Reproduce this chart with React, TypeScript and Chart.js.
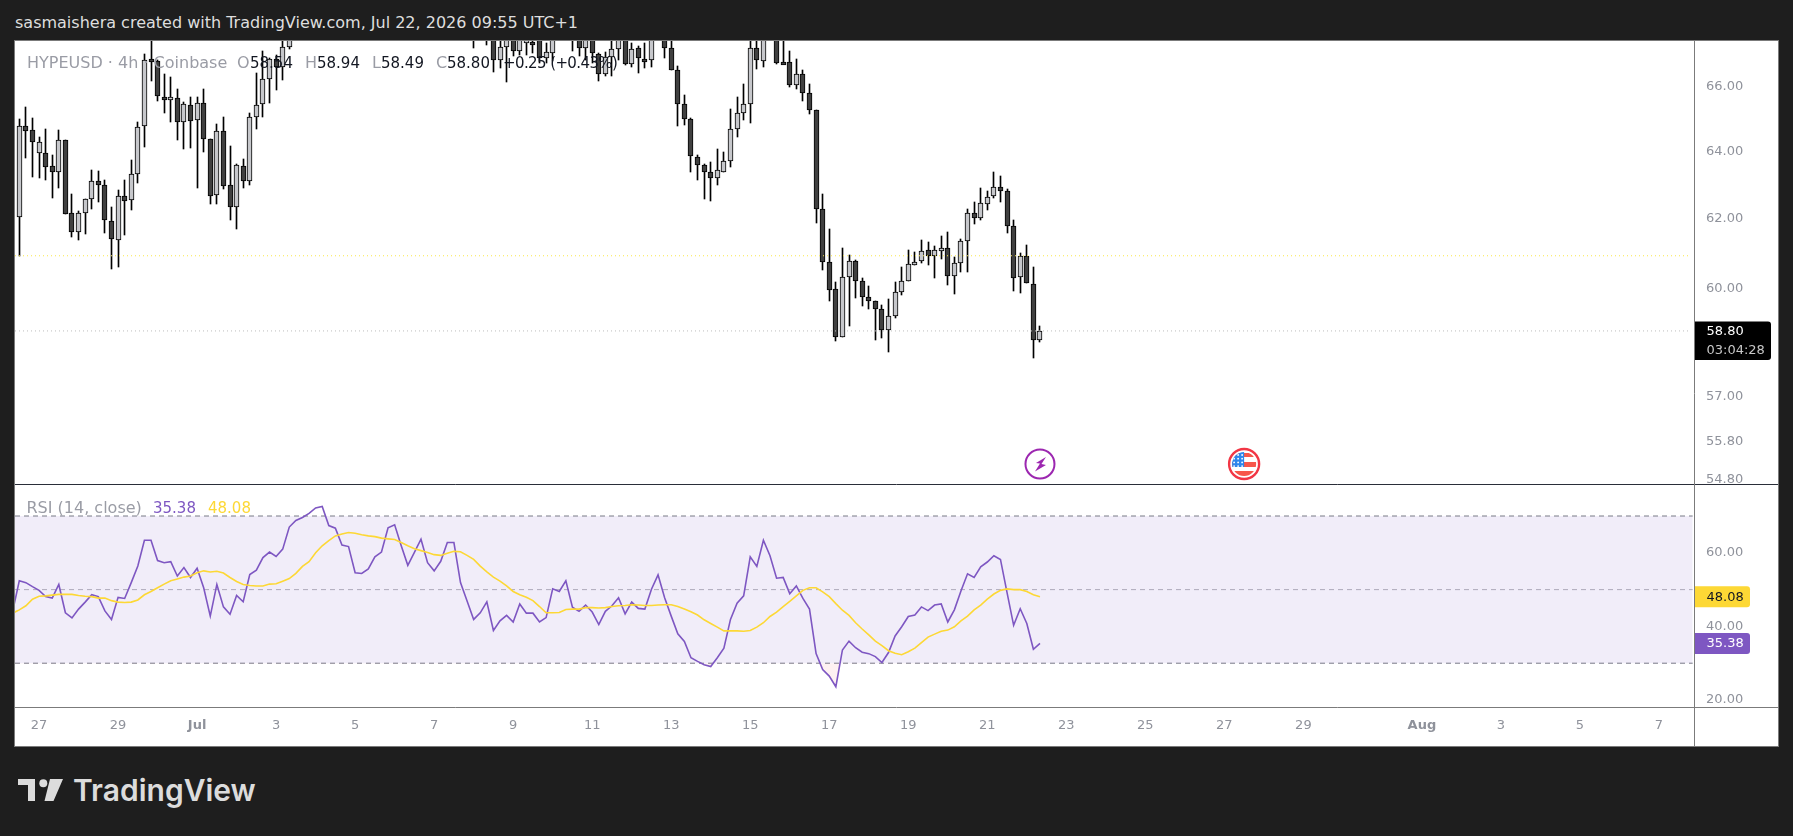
import React, { useEffect, useRef } from "react";
import { Chart, registerables } from "chart.js";

Chart.register(...registerables);

const titleText = "sasmaishera created with TradingView.com, Jul 22, 2026 09:55 UTC+1";

// Bars are 4h candles, index 0 = first bar in view. Bars above the visible range are estimates.
const opens = [
  62.05,64.79,64.67,63.96,63.96,63.57,63.39,64.36,62.17,61.61,
  62.17,62.59,63.12,63.00,61.93,61.38,62.68,62.56,63.33,64.79,
  66.87,66.81,65.68,65.59,65.65,64.91,65.44,64.97,65.50,64.39,
  62.71,64.64,63.00,62.35,63.57,63.12,65.07,65.47,66.24,66.87,
  66.62,67.25,67.8,68.4,68.9,69.3,69.6,69.9,69.4,69.2,
  68.7,68.6,68.0,67.9,68.1,68.5,68.7,69.4,69.6,69.0,
  68.5,68.8,69.2,68.6,68.3,68.7,69.2,69.2,68.4,68.0,
  67.8,68.0,67.8,66.85,67.25,67.6,67.13,67.38,67.41,67.6,
  66.91,67.06,67.8,68.1,68.0,67.7,67.22,67.55,67.03,66.40,
  66.93,67.19,67.5,66.71,67.22,66.88,66.84,67.7,67.8,67.22,
  66.53,65.47,65.0,63.84,63.60,63.39,63.21,63.39,63.74,64.70,
  65.19,65.47,67.22,66.81,67.7,67.7,66.79,66.78,66.05,66.40,
  65.81,65.28,62.29,60.74,59.99,58.63,60.31,60.77,60.22,59.74,
  59.63,59.41,58.82,59.21,59.88,60.22,60.69,60.77,61.09,60.92,
  61.09,61.15,60.34,60.72,61.35,62.17,62.02,62.44,62.68,62.95,
  62.83,61.79,60.31,60.92,60.13,58.54,
];
const highs = [
  65.02,65.38,65.05,64.46,64.71,63.91,64.68,64.36,62.75,62.24,
  62.59,63.46,63.43,63.15,62.35,62.86,63.15,63.76,64.91,67.03,
  67.7,66.84,66.41,66.30,65.94,65.53,65.68,65.68,65.94,64.39,
  64.85,65.08,64.18,63.63,63.79,65.20,66.44,67.12,66.90,67.00,
  67.6,68.1,68.9,69.3,69.7,70.0,70.3,70.3,69.8,69.6,
  69.0,68.8,68.4,68.3,68.7,68.9,69.6,69.8,69.8,69.2,
  69.0,69.3,69.4,68.8,68.9,69.3,69.5,69.4,68.6,68.4,
  68.1,68.3,68.0,67.6,67.9,67.8,67.8,68.0,67.7,67.8,
  67.38,68.0,68.3,68.4,68.2,67.9,67.8,67.9,67.06,67.09,
  67.6,67.8,67.8,67.38,67.29,67.4,67.8,68.2,68.0,67.6,
  66.66,65.75,65.03,63.91,63.63,63.69,64.08,63.99,65.31,65.68,
  66.08,67.6,67.6,67.8,68.2,68.0,67.55,67.12,66.87,66.53,
  66.08,65.28,62.75,61.70,60.19,61.15,60.95,60.80,60.28,60.07,
  59.63,59.52,59.69,60.19,60.60,61.09,61.03,61.38,61.32,61.21,
  61.50,61.61,60.89,61.41,62.29,62.49,62.91,62.82,63.39,63.27,
  62.89,61.96,61.00,61.24,60.60,58.94,
];
const lows = [
  60.93,63.83,63.23,63.20,63.16,62.61,62.91,62.14,61.48,61.40,
  61.57,62.30,62.49,61.60,60.56,60.62,61.54,62.25,63.08,64.16,
  66.17,65.55,65.18,64.90,64.35,64.10,64.13,62.91,64.01,62.43,
  62.43,62.88,61.98,61.72,62.91,63.02,64.69,65.06,65.49,65.89,
  66.23,67.2,67.6,68.1,68.6,69.0,69.2,69.3,69.0,68.6,
  68.4,67.8,67.7,67.7,67.9,68.2,68.5,69.1,68.9,68.4,
  68.3,68.6,68.4,68.1,68.2,68.5,68.9,68.2,67.8,67.22,
  67.6,67.32,66.48,66.59,66.15,66.96,67.0,67.0,67.08,66.75,
  66.75,66.80,67.6,67.7,67.13,66.96,66.85,66.75,66.17,66.33,
  66.33,66.85,66.69,66.62,66.45,66.59,66.64,67.6,66.92,66.53,
  64.79,64.81,63.38,63.14,62.58,62.52,63.0,63.39,63.55,64.44,
  64.96,64.87,66.57,66.64,67.6,66.71,66.71,65.99,65.92,65.55,
  65.15,61.87,60.53,59.65,58.51,58.63,58.93,59.73,59.51,59.40,
  58.56,58.59,58.23,59.15,59.82,60.22,60.65,60.73,60.67,60.30,
  60.85,60.10,59.84,60.45,60.47,61.85,61.96,62.27,62.62,62.49,
  61.58,59.93,59.87,60.16,58.04,58.49,
];
const closes = [
  64.79,64.64,64.30,64.30,63.54,63.39,64.36,62.14,61.61,62.17,
  62.59,63.12,63.00,61.96,61.41,62.68,62.53,63.33,64.76,66.84,
  66.81,65.71,65.59,65.68,64.91,65.47,64.94,65.50,64.39,62.68,
  64.64,62.98,62.35,63.60,63.12,65.07,65.44,66.24,66.87,66.62,
  67.25,67.8,68.4,68.9,69.3,69.6,69.9,69.4,69.2,68.7,
  68.6,68.0,67.9,68.1,68.5,68.7,69.4,69.6,69.0,68.5,
  68.8,69.2,68.6,68.3,68.7,69.2,69.2,68.4,68.0,67.8,
  68.0,67.8,66.85,67.25,67.6,67.13,67.55,67.7,67.38,66.91,
  67.09,67.7,68.1,68.0,67.7,67.22,67.55,67.06,66.40,66.93,
  67.19,67.5,66.71,67.19,66.90,66.85,67.55,68.0,67.22,66.53,
  65.47,65.0,63.87,63.60,63.39,63.21,63.45,63.74,64.70,65.19,
  65.47,67.22,66.84,67.55,68.0,66.75,66.75,66.05,66.40,65.81,
  65.28,62.29,60.74,59.96,58.63,60.31,60.77,60.22,59.74,59.63,
  59.41,58.82,59.21,59.88,60.22,60.69,60.74,61.06,60.92,61.09,
  61.15,60.34,60.72,61.35,62.17,62.02,62.47,62.65,62.95,62.83,
  61.79,60.28,60.92,60.16,58.54,58.80,
];

// RSI series start one bar before the first candle (index -1).
const rsiValues = [
  44.2,
  52.4,51.9,50.8,49.8,48.1,47.7,51.4,43.7,42.3,44.7,
  46.6,48.6,48.1,44.2,41.9,47.9,47.6,51.9,56.4,63.4,
  63.4,57.9,57.3,57.6,53.7,56.0,53.3,55.8,50.5,42.8,
  51.4,45.3,43.3,48.4,46.7,54.1,55.3,58.7,60.2,59.0,
  61.0,67.0,68.8,69.6,70.7,72.2,72.6,67.4,66.7,62.1,
  61.7,54.6,54.4,55.6,58.9,60.2,66.8,67.6,61.9,56.6,
  60.1,63.7,57.3,55.1,57.7,62.8,62.8,51.9,46.9,41.9,
  43.7,46.7,38.9,41.5,43.0,41.2,46.1,43.6,43.6,41.2,
  42.4,50.2,49.5,52.4,45.2,44.1,45.8,43.9,40.5,44.1,
  45.6,47.8,43.4,46.6,44.9,44.7,50.1,54.0,47.8,42.8,
  38.0,35.9,31.5,30.5,29.6,29.1,31.5,34.1,41.9,46.3,
  48.3,58.9,56.3,63.4,59.2,53.1,53.3,48.9,51.0,47.6,
  44.7,32.6,28.3,26.5,23.6,33.6,36.0,34.2,33.0,32.6,
  31.8,30.2,32.9,37.4,39.9,42.7,43.1,45.3,44.3,45.8,
  46.1,41.2,44.5,49.6,54.3,53.3,56.2,57.5,59.2,58.2,
  49.2,40.3,44.8,40.8,33.8,35.38,
];
const rsiSmaValues = [
  43.6,
  44.5,45.6,47.4,48.2,48.3,48.5,48.7,48.7,48.7,48.4,
  48.2,48.1,47.7,47.7,47.0,46.6,46.5,46.6,47.2,48.6,
  49.5,50.5,51.5,52.4,52.9,53.4,53.7,54.6,55.1,54.8,
  55.0,54.5,53.3,52.2,51.4,51.1,51.0,51.0,51.5,51.6,
  52.3,53.0,54.4,56.3,57.6,60.0,61.9,63.3,64.6,65.1,
  65.5,65.3,64.9,64.6,64.4,64.0,63.8,63.6,62.8,61.9,
  61.1,60.6,60.1,59.5,59.3,59.9,60.4,60.3,59.3,58.2,
  56.4,54.8,53.4,52.3,51.0,49.5,48.6,47.9,47.0,45.4,
  43.7,43.7,43.8,44.6,44.7,44.7,45.1,45.1,45.0,45.1,
  45.4,45.6,45.7,45.9,45.8,45.7,45.7,45.8,45.9,45.9,
  45.4,44.7,44.0,43.1,41.8,40.8,39.8,38.8,38.8,38.8,
  38.7,38.9,39.8,41.0,42.7,43.9,45.4,46.8,48.3,49.8,
  50.5,50.5,49.4,48.1,46.2,44.4,43.0,41.0,39.3,37.7,
  36.0,34.8,33.4,32.7,32.3,33.1,34.1,35.6,37.1,37.9,
  38.7,39.0,39.9,41.5,42.8,44.5,45.8,47.4,48.8,49.8,
  50.2,50.0,50.0,49.5,48.6,48.08,
];

const priceTicks = [66, 64, 62, 60, 57, 55.8, 54.8];
const rsiTicks = [60, 40, 20];
const rsiBands = [70, 50, 30];
const xTickBars = [3, 15, 27, 39, 51, 63, 75, 87, 99, 111, 123, 135, 147, 159, 171, 183, 195, 213, 225, 237, 249];
const xTickLabels = ["27", "29", "Jul", "3", "5", "7", "9", "11", "13", "15", "17", "19", "21", "23", "25", "27", "29", "Aug", "3", "5", "7"];
const monthLabels = ["Jul", "Aug"];

const lastPrice = 58.80;
const countdown = "03:04:28";
const yellowLevel = 60.93;
const rsiLast = 35.38;
const smaLast = 48.08;
const eventBars = [155, 186];

const xMin = -0.653;
const xMax = 254.32;
const AXIS_FONT = "'DejaVu Sans', sans-serif";

function rr(ctx: any, x: number, y: number, w: number, h: number, r: number) {
  ctx.beginPath();
  ctx.moveTo(x, y);
  ctx.lineTo(x + w - r, y);
  ctx.arcTo(x + w, y, x + w, y + r, r);
  ctx.lineTo(x + w, y + h - r);
  ctx.arcTo(x + w, y + h, x + w - r, y + h, r);
  ctx.lineTo(x, y + h);
  ctx.closePath();
}

// Snap the candles that the scales placed onto whole pixels, as the source renderer does.
const pixelSnap = {
  id: "pixelSnap",
  afterDatasetsUpdate(chart: any) {
    chart.getSortedVisibleDatasetMetas().forEach((meta: any) => {
      if (meta.type !== "bar") return;
      const isBody = meta.controller.getDataset().barThickness > 2;
      meta.data.forEach((el: any) => {
        el.x = Math.floor(el.x) + 0.5;
        const top = Math.round(Math.min(el.y, el.base));
        let bottom = Math.round(Math.max(el.y, el.base));
        if (isBody && bottom - top < 3) bottom = top + 3;
        el.y = top;
        el.base = bottom;
      });
    });
  },
};

const overlay = {
  id: "overlay",
  afterDraw(chart: any) {
    const { ctx, chartArea, scales, width, height } = chart;
    const right = chartArea.right;
    ctx.save();
    // pane frame lines
    ctx.lineWidth = 1;
    ctx.strokeStyle = "#2a2e39";
    const sep = Math.round(scales.y.bottom) + 0.5;
    ctx.beginPath(); ctx.moveTo(0, sep); ctx.lineTo(width, sep); ctx.stroke();
    ctx.strokeStyle = "#7b7b7b";
    const bot = Math.round(scales.y2.bottom) + 0.5;
    ctx.beginPath(); ctx.moveTo(0, bot); ctx.lineTo(width, bot); ctx.stroke();
    const vx = Math.round(right) + 0.5;
    ctx.beginPath(); ctx.moveTo(vx, 0); ctx.lineTo(vx, height); ctx.stroke();

    ctx.textBaseline = "middle";
    ctx.textAlign = "left";
    ctx.font = "13px " + AXIS_FONT;
    const textX = right + 12.5;

    // last price badge
    const py = scales.y.getPixelForValue(lastPrice);
    ctx.fillStyle = "#000000";
    rr(ctx, right + 1, py - 9.5, 76, 38.5, 3);
    ctx.fill();
    ctx.fillStyle = "#ffffff";
    ctx.fillText(lastPrice.toFixed(2), textX, py + 1);
    ctx.fillStyle = "#c8c8c8";
    ctx.fillText(countdown, textX, py + 19.5);

    // RSI badges
    const badge = (v: number, bg: string, fg: string) => {
      const y = scales.y2.getPixelForValue(v);
      ctx.fillStyle = bg;
      rr(ctx, right + 1, y - 10.5, 55, 21, 3);
      ctx.fill();
      ctx.fillStyle = fg;
      ctx.fillText(v.toFixed(2), textX, y + 0.5);
    };
    badge(smaLast, "#fdd835", "#131722");
    badge(rsiLast, "#7e57c2", "#ffffff");

    // event markers
    const iy = scales.y.bottom - 20;
    const bx = scales.x.getPixelForValue(eventBars[0]);
    ctx.fillStyle = "#ffffff";
    ctx.strokeStyle = "#9c27b0";
    ctx.lineWidth = 2;
    ctx.beginPath(); ctx.arc(bx, iy, 14.5, 0, Math.PI * 2); ctx.fill(); ctx.stroke();
    ctx.fillStyle = "#9c27b0";
    ctx.beginPath();
    ctx.moveTo(bx + 6, iy - 7);
    ctx.lineTo(bx - 4, iy - 1);
    ctx.lineTo(bx, iy - 0.5);
    ctx.lineTo(bx - 5, iy + 7.5);
    ctx.lineTo(bx + 6, iy + 1);
    ctx.lineTo(bx + 1.5, iy);
    ctx.closePath();
    ctx.fill();

    const fx = scales.x.getPixelForValue(eventBars[1]);
    ctx.fillStyle = "#ffffff";
    ctx.strokeStyle = "#f23645";
    ctx.lineWidth = 2.4;
    ctx.beginPath(); ctx.arc(fx, iy, 15, 0, Math.PI * 2); ctx.fill(); ctx.stroke();
    ctx.save();
    ctx.beginPath(); ctx.arc(fx, iy, 12, 0, Math.PI * 2); ctx.clip();
    ctx.fillStyle = "#f7564a";
    ctx.fillRect(fx - 13, iy - 11, 26, 4);
    ctx.fillRect(fx - 13, iy - 2, 26, 5);
    ctx.fillRect(fx - 13, iy + 7, 26, 6);
    ctx.fillStyle = "#2f86eb";
    ctx.fillRect(fx - 13, iy - 12, 13, 15);
    ctx.fillStyle = "#ffffff";
    for (let r = 0; r < 4; r++) {
      for (let c = 0; c < 3; c++) {
        ctx.beginPath();
        ctx.arc(fx - 10 + c * 4, iy - 9 + r * 3.7, 0.9, 0, Math.PI * 2);
        ctx.fill();
      }
    }
    ctx.restore();
    ctx.restore();
  },
};

const legendTop = [
  { x: 27, t: "HYPEUSD · 4h · Coinbase", c: "#9a9ca5", s: 16, l: 0 },
  { x: 237, t: "O", c: "#9a9ca5", s: 16, l: 0 },
  { x: 250, t: "58.54", c: "#131722", s: 15, l: 0 },
  { x: 305, t: "H", c: "#9a9ca5", s: 16, l: 0 },
  { x: 317, t: "58.94", c: "#131722", s: 15, l: 0 },
  { x: 372, t: "L", c: "#9a9ca5", s: 16, l: 0 },
  { x: 381, t: "58.49", c: "#131722", s: 15, l: 0 },
  { x: 436, t: "C", c: "#9a9ca5", s: 16, l: 0 },
  { x: 447, t: "58.80", c: "#131722", s: 15, l: 0 },
  { x: 503, t: "+0.25 (+0.43%)", c: "#131722", s: 15, l: -0.6 },
];
const legendRsi = [
  { x: 26.5, t: "RSI (14, close)", c: "#9a9ca5", s: 16 },
  { x: 153, t: "35.38", c: "#7e57c2", s: 15 },
  { x: 208, t: "48.08", c: "#fdd835", s: 15 },
];

const scaleFit = (w: number | null, h: number | null) => (a: any) => {
  if (w !== null) a.width = w;
  if (h !== null) a.height = h;
  a.paddingTop = 0;
  a.paddingBottom = 0;
  a.paddingLeft = 0;
  a.paddingRight = 0;
};

export default function App() {
  const ref = useRef<HTMLCanvasElement>(null);
  useEffect(() => {
    const bars = opens.map((_, i) => i);
    const colors = bars.map((i) => (closes[i] >= opens[i] ? "#c6c7cb" : "#404040"));
    const bandLine = (v: number, color: string, fill: any) => ({
      type: "line",
      yAxisID: "y2",
      data: [{ x: xMin, y: v }, { x: xMax - 0.2, y: v }],
      borderColor: color,
      borderWidth: 1,
      borderDash: [5, 4],
      pointRadius: 0,
      fill,
      backgroundColor: "rgba(126,87,194,0.105)",
      order: 5,
    });
    const chart = new Chart(ref.current as any, {
      type: "bar",
      data: {
        datasets: [
          {
            type: "line", yAxisID: "y",
            data: [{ x: xMin, y: yellowLevel }, { x: xMax - 0.6, y: yellowLevel }],
            borderColor: "#fbe84a", borderWidth: 1, borderDash: [1, 3], pointRadius: 0, order: 1,
          },
          {
            type: "line", yAxisID: "y",
            data: [{ x: xMin, y: lastPrice }, { x: xMax - 0.6, y: lastPrice }],
            borderColor: "#bdbdbd", borderWidth: 1, borderDash: [1, 3], pointRadius: 0, order: 1,
          },
          {
            type: "bar", yAxisID: "y", order: 2, grouped: false,
            data: bars.map((i) => ({ x: i, y: [opens[i], closes[i]] })),
            backgroundColor: colors, borderColor: "#000000", borderWidth: 1, borderSkipped: false, barThickness: 5,
          },
          {
            type: "bar", yAxisID: "y", order: 3, grouped: false,
            data: bars.map((i) => ({ x: i, y: [lows[i], highs[i]] })),
            backgroundColor: "#000000", borderWidth: 0, barThickness: 1,
          },
          bandLine(rsiBands[0], "#787b86", { value: rsiBands[2] }),
          bandLine(rsiBands[1], "#b4b4ba", false),
          bandLine(rsiBands[2], "#787b86", false),
          {
            type: "line", yAxisID: "y2", order: 3,
            data: rsiValues.map((v, k) => ({ x: k - 1, y: v })),
            borderColor: "#7e57c2", borderWidth: 1.6, pointRadius: 0, tension: 0,
            fill: { target: { value: rsiBands[2] }, below: "rgba(242,54,69,0.07)", above: "rgba(0,0,0,0)" },
          },
          {
            type: "line", yAxisID: "y2", order: 2,
            data: rsiSmaValues.map((v, k) => ({ x: k - 1, y: v })),
            borderColor: "#fdd835", borderWidth: 1.6, pointRadius: 0, tension: 0,
          },
        ],
      } as any,
      options: {
        animation: false,
        responsive: false,
        devicePixelRatio: 1,
        layout: { autoPadding: false, padding: 0 },
        plugins: { legend: { display: false }, tooltip: { enabled: false } },
        events: [],
        scales: {
          x: {
            type: "linear", min: xMin, max: xMax, offset: false, bounds: "data",
            grid: { display: false, offset: false, drawTicks: false },
            border: { display: false },
            afterFit: scaleFit(null, 39),
            afterBuildTicks: (a: any) => { a.ticks = xTickBars.map((value) => ({ value })); },
            ticks: {
              autoSkip: false, maxRotation: 0, padding: 11, color: "#8f929b",
              callback: (v: any) => xTickLabels[xTickBars.indexOf(v)],
              font: (c: any) => ({
                family: AXIS_FONT, size: 13,
                weight: monthLabels.includes(xTickLabels[c.index]) ? "bold" : "normal",
              }),
            },
          },
          y: {
            type: "logarithmic", axis: "y", position: "right", stack: "panes", stackWeight: 443, weight: 0,
            min: 54.69, max: 67.45, bounds: "data",
            grid: { display: false, drawTicks: false }, border: { display: false },
            afterFit: scaleFit(84, null),
            afterBuildTicks: (a: any) => { a.ticks = priceTicks.map((value) => ({ value })); },
            ticks: {
              autoSkip: false, padding: 12, color: "#8f929b",
              font: { family: AXIS_FONT, size: 13 },
              callback: (v: any) => Number(v).toFixed(2),
            },
          },
          y2: {
            type: "linear", axis: "y", position: "right", stack: "panes", stackWeight: 223, weight: 1,
            min: 18.1, max: 78.7, bounds: "data",
            grid: { display: false, drawTicks: false }, border: { display: false },
            afterFit: scaleFit(84, null),
            afterBuildTicks: (a: any) => { a.ticks = rsiTicks.map((value) => ({ value })); },
            ticks: {
              autoSkip: false, padding: 12, color: "#8f929b",
              font: { family: AXIS_FONT, size: 13 },
              callback: (v: any) => Number(v).toFixed(2),
            },
          },
        },
      } as any,
      plugins: [pixelSnap, overlay],
    } as any);
    return () => chart.destroy();
  }, []);

  const abs: any = { position: "absolute", whiteSpace: "pre", fontFamily: AXIS_FONT };
  return (
    <div style={{ position: "fixed", left: 0, top: 0, width: 1793, height: 836, background: "#1e1e1e", overflow: "hidden" }}>
      <div style={{ ...abs, left: 15, top: 13, fontSize: 16, lineHeight: "20px", color: "#dedede" }}>{titleText}</div>
      <div style={{ position: "absolute", left: 14, top: 40, width: 1763, height: 705, border: "1px solid #7b7b7b", background: "#ffffff" }}>
        <canvas ref={ref} width={1763} height={705} style={{ display: "block", width: 1763, height: 705 }} />
      </div>
      {legendTop.map((d) => (
        <span key={d.x} style={{ ...abs, left: d.x, top: 54, fontSize: d.s, letterSpacing: d.l, lineHeight: "18px", color: d.c }}>{d.t}</span>
      ))}
      {legendRsi.map((d) => (
        <span key={d.x} style={{ ...abs, left: d.x, top: 499, fontSize: d.s, lineHeight: "18px", color: d.c }}>{d.t}</span>
      ))}
      <svg style={{ position: "absolute", left: 18, top: 779 }} width={46} height={23} viewBox="0 0 46 23">
        <path d="M0 0H17V22H10V6H0Z M32 0H45L35.5 22H26.5Z" fill="#dcdcdc" />
        <circle cx="25.3" cy="4.3" r="4" fill="#dcdcdc" />
      </svg>
      <div style={{ ...abs, left: 73, top: 772, fontFamily: "Inter, sans-serif", fontSize: 30, lineHeight: "36px", fontWeight: 600, color: "#dcdcdc" }}>TradingView</div>
    </div>
  );
}
